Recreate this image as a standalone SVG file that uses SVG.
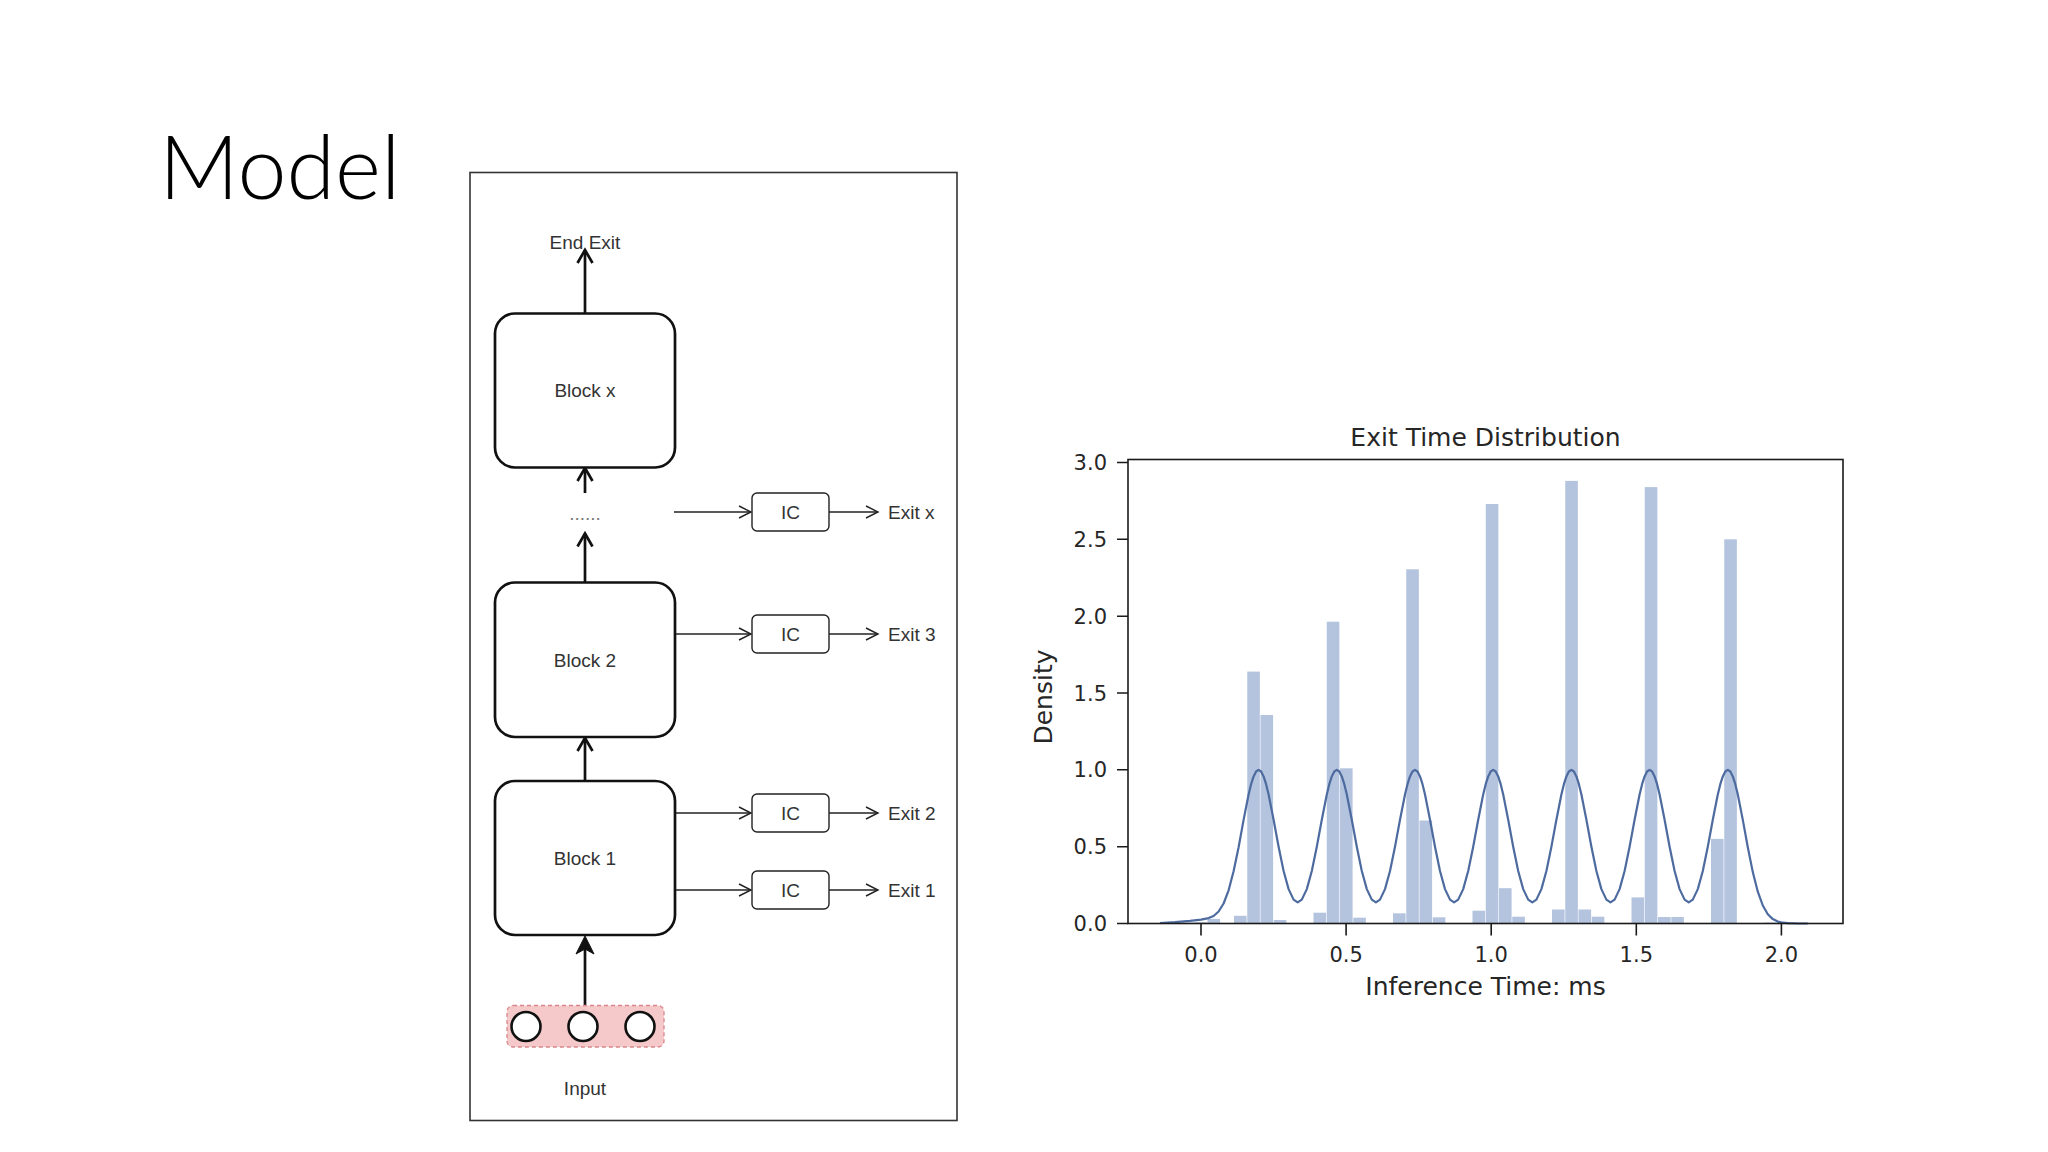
<svg xmlns="http://www.w3.org/2000/svg" width="2048" height="1152" viewBox="0 0 2048 1152">
<style>
.lbl{font-family:"Liberation Sans",Arial,sans-serif;font-size:19px;fill:#333}
.mid{text-anchor:middle}
.blk{fill:#fff;stroke:#111;stroke-width:2.7}
.ic{fill:#fff;stroke:#222;stroke-width:1.4}
.thick{stroke:#111;stroke-width:2.7;fill:none}
.thin{stroke:#222;stroke-width:1.4;fill:none}
.ch{font-family:"DejaVu Sans",sans-serif;fill:#262626}
.tick{font-size:21px}
.bar{fill:#b4c3de}
.spine{stroke:#1a1a1a;stroke-width:1.6;fill:none}
</style>
<defs>
<marker id="openThick" markerUnits="userSpaceOnUse" orient="auto" refX="13" refY="0" markerWidth="20" markerHeight="20" overflow="visible">
<path d="M0,-7.5 L13,0 L0,7.5" fill="none" stroke="#111" stroke-width="2.7"/>
</marker>
<marker id="openThin" markerUnits="userSpaceOnUse" orient="auto" refX="12" refY="0" markerWidth="20" markerHeight="20" overflow="visible">
<path d="M0,-6 L12,0 L0,6" fill="none" stroke="#222" stroke-width="1.4"/>
</marker>
<marker id="classic" markerUnits="userSpaceOnUse" orient="auto" refX="5" refY="0" markerWidth="20" markerHeight="20" overflow="visible">
<path d="M18,0 L0,-9 L5,0 L0,9 Z" fill="#111" stroke="#111" stroke-width="1"/>
</marker>
</defs>
<rect width="2048" height="1152" fill="#fff"/>

<text x="159" y="199" font-family="Lato,'Open Sans',sans-serif" font-weight="300" font-size="88" fill="#000">Model</text>

<g id="frame"><rect x="470" y="172.5" width="487" height="948" fill="none" stroke="#333" stroke-width="1.6"/></g>

<g id="connectors">
<line class="thick" x1="585" y1="313.5" x2="585" y2="250" marker-end="url(#openThick)"/>
<line class="thick" x1="585" y1="493" x2="585" y2="468" marker-end="url(#openThick)"/>
<line class="thick" x1="585" y1="582.5" x2="585" y2="533.5" marker-end="url(#openThick)"/>
<line class="thick" x1="585" y1="781" x2="585" y2="738" marker-end="url(#openThick)"/>
<line class="thick" x1="585" y1="1005.5" x2="585" y2="949" marker-end="url(#classic)"/>
<line class="thin" x1="674" y1="512" x2="751" y2="512" marker-end="url(#openThin)"/>
<line class="thin" x1="675" y1="634" x2="751" y2="634" marker-end="url(#openThin)"/>
<line class="thin" x1="675" y1="813" x2="751" y2="813" marker-end="url(#openThin)"/>
<line class="thin" x1="675" y1="890" x2="751" y2="890" marker-end="url(#openThin)"/>
<line class="thin" x1="829" y1="512" x2="878" y2="512" marker-end="url(#openThin)"/>
<line class="thin" x1="829" y1="634" x2="878" y2="634" marker-end="url(#openThin)"/>
<line class="thin" x1="829" y1="813" x2="878" y2="813" marker-end="url(#openThin)"/>
<line class="thin" x1="829" y1="890" x2="878" y2="890" marker-end="url(#openThin)"/>
</g>

<g id="end-exit"><text class="lbl mid" x="585" y="249">End Exit</text></g>
<g id="block-x"><rect class="blk" x="495" y="313.5" width="180" height="154" rx="20"/><text class="lbl mid" x="585" y="397">Block x</text></g>
<g id="ellipsis"><text class="lbl mid" x="585" y="520" style="fill:#777">......</text></g>
<g id="block-2"><rect class="blk" x="495" y="582.5" width="180" height="154.5" rx="20"/><text class="lbl mid" x="585" y="666.5">Block 2</text></g>
<g id="block-1"><rect class="blk" x="495" y="781" width="180" height="154" rx="20"/><text class="lbl mid" x="585" y="865">Block 1</text></g>

<g id="ic-x"><rect class="ic" x="752" y="493" width="77" height="38" rx="5"/><text class="lbl mid" x="790.5" y="518.5">IC</text></g>
<g id="ic-3"><rect class="ic" x="752" y="615" width="77" height="38" rx="5"/><text class="lbl mid" x="790.5" y="640.5">IC</text></g>
<g id="ic-2"><rect class="ic" x="752" y="794" width="77" height="38" rx="5"/><text class="lbl mid" x="790.5" y="819.5">IC</text></g>
<g id="ic-1"><rect class="ic" x="752" y="871" width="77" height="38" rx="5"/><text class="lbl mid" x="790.5" y="896.5">IC</text></g>

<g id="exit-x"><text class="lbl" x="888" y="519">Exit x</text></g>
<g id="exit-3"><text class="lbl" x="888" y="641">Exit 3</text></g>
<g id="exit-2"><text class="lbl" x="888" y="820">Exit 2</text></g>
<g id="exit-1"><text class="lbl" x="888" y="897">Exit 1</text></g>

<g id="input">
<rect x="507" y="1005.5" width="157" height="41.5" rx="6" fill="#f5c9c9" stroke="#d9868a" stroke-width="1.3" stroke-dasharray="4,3"/>
<circle cx="526" cy="1026.5" r="14.5" fill="#fff" stroke="#111" stroke-width="2.6"/>
<circle cx="583" cy="1026.5" r="14.5" fill="#fff" stroke="#111" stroke-width="2.6"/>
<circle cx="640" cy="1026.5" r="14.5" fill="#fff" stroke="#111" stroke-width="2.6"/>
<text class="lbl mid" x="585" y="1095">Input</text>
</g>

<g id="chart">
<text class="ch" x="1485.5" y="446" font-size="25" text-anchor="middle">Exit Time Distribution</text>
<g id="bars">
<rect class="bar" x="1181" y="922.7" width="12.6" height="0.8"/>
<rect class="bar" x="1194.25" y="922.3" width="12.6" height="1.2"/>
<rect class="bar" x="1207.5" y="918.9" width="12.6" height="4.6"/>
<rect class="bar" x="1234" y="915.8" width="12.6" height="7.7"/>
<rect class="bar" x="1247.25" y="671.6" width="12.6" height="251.9"/>
<rect class="bar" x="1260.5" y="715" width="12.6" height="208.5"/>
<rect class="bar" x="1273.75" y="920" width="12.6" height="3.5"/>
<rect class="bar" x="1313.5" y="912.7" width="12.6" height="10.8"/>
<rect class="bar" x="1326.75" y="621.7" width="12.6" height="301.8"/>
<rect class="bar" x="1340" y="768.3" width="12.6" height="155.2"/>
<rect class="bar" x="1353.25" y="917.7" width="12.6" height="5.8"/>
<rect class="bar" x="1393" y="913.3" width="12.6" height="10.2"/>
<rect class="bar" x="1406.25" y="569.3" width="12.6" height="354.2"/>
<rect class="bar" x="1419.5" y="820.5" width="12.6" height="103"/>
<rect class="bar" x="1432.75" y="917.3" width="12.6" height="6.2"/>
<rect class="bar" x="1472.5" y="910.7" width="12.6" height="12.8"/>
<rect class="bar" x="1485.75" y="504" width="12.6" height="419.5"/>
<rect class="bar" x="1499" y="888.2" width="12.6" height="35.3"/>
<rect class="bar" x="1512.25" y="916.7" width="12.6" height="6.8"/>
<rect class="bar" x="1552" y="909.5" width="12.6" height="14"/>
<rect class="bar" x="1565.25" y="480.9" width="12.6" height="442.6"/>
<rect class="bar" x="1578.5" y="909.5" width="12.6" height="14"/>
<rect class="bar" x="1591.75" y="916.7" width="12.6" height="6.8"/>
<rect class="bar" x="1631.5" y="897.4" width="12.6" height="26.1"/>
<rect class="bar" x="1644.75" y="487.1" width="12.6" height="436.4"/>
<rect class="bar" x="1658" y="917" width="12.6" height="6.5"/>
<rect class="bar" x="1671.25" y="917" width="12.6" height="6.5"/>
<rect class="bar" x="1711" y="838.9" width="12.6" height="84.6"/>
<rect class="bar" x="1724.25" y="539.3" width="12.6" height="384.2"/>
<rect class="bar" x="1764" y="922.6" width="12.6" height="0.9"/>
<rect class="bar" x="1777.25" y="922.6" width="12.6" height="0.9"/>
</g>
<path id="kde" fill="none" stroke="#4d6b9f" stroke-width="2.2" stroke-linejoin="round" d="M1160,923 L1175,922.2 L1190,920.9 L1201,919.6 L1208.6,918.1 L1213.6,916 L1218.6,911.5 L1223.6,903.5 L1228.6,890.3 L1233.6,871.3 L1238.6,847.2 L1243.6,819.9 L1248.6,794.5 L1251.1,784.2 L1253.6,776.4 L1256.1,771.5 L1258.6,769.8
l2.5,1.7 2.5,4.9 2.5,7.8 2.5,10.3 5,25.2 5,27.1 5,24.2 5,18.1 5,10.5 4.1,2.8 4.1,-2.8 5,-10.5 5,-18.1 5,-24.2 5,-27.1 5,-25.2 2.5,-10.3 2.5,-7.8 2.5,-4.9 2.5,-1.7
l2.5,1.7 2.5,4.9 2.5,7.8 2.5,10.3 5,25.2 5,27.1 5,24.2 5,18.1 5,10.5 4.1,2.8 4.1,-2.8 5,-10.5 5,-18.1 5,-24.2 5,-27.1 5,-25.2 2.5,-10.3 2.5,-7.8 2.5,-4.9 2.5,-1.7
l2.5,1.7 2.5,4.9 2.5,7.8 2.5,10.3 5,25.2 5,27.1 5,24.2 5,18.1 5,10.5 4.1,2.8 4.1,-2.8 5,-10.5 5,-18.1 5,-24.2 5,-27.1 5,-25.2 2.5,-10.3 2.5,-7.8 2.5,-4.9 2.5,-1.7
l2.5,1.7 2.5,4.9 2.5,7.8 2.5,10.3 5,25.2 5,27.1 5,24.2 5,18.1 5,10.5 4.1,2.8 4.1,-2.8 5,-10.5 5,-18.1 5,-24.2 5,-27.1 5,-25.2 2.5,-10.3 2.5,-7.8 2.5,-4.9 2.5,-1.7
l2.5,1.7 2.5,4.9 2.5,7.8 2.5,10.3 5,25.2 5,27.1 5,24.2 5,18.1 5,10.5 4.1,2.8 4.1,-2.8 5,-10.5 5,-18.1 5,-24.2 5,-27.1 5,-25.2 2.5,-10.3 2.5,-7.8 2.5,-4.9 2.5,-1.7
l2.5,1.7 2.5,4.9 2.5,7.8 2.5,10.3 5,25.2 5,27.1 5,24.2 5,18.1 5,10.5 4.1,2.8 4.1,-2.8 5,-10.5 5,-18.1 5,-24.2 5,-27.1 5,-25.2 2.5,-10.3 2.5,-7.8 2.5,-4.9 2.5,-1.7
l2.5,1.7 2.5,4.9 2.5,7.8 2.5,10.3 5,25.4 5,27.3 5,24.9 5,19.6 5,13.8 5,8.7 5,4.9 5,2.5 5,1.1 5,0.5 10,0.3 10,0"/>
<rect class="spine" x="1128" y="459.5" width="715" height="464"/>
<path class="spine" d="M1117,923.5H1128 M1117,846.7H1128 M1117,769.8H1128 M1117,693H1128 M1117,616.2H1128 M1117,539.3H1128 M1117,462.5H1128 M1201,923.5V935.5 M1346.1,923.5V935.5 M1491.2,923.5V935.5 M1636.3,923.5V935.5 M1781.4,923.5V935.5"/>
<g class="ch tick" text-anchor="end">
<text x="1107" y="931">0.0</text>
<text x="1107" y="854.3">0.5</text>
<text x="1107" y="777.4">1.0</text>
<text x="1107" y="700.6">1.5</text>
<text x="1107" y="623.8">2.0</text>
<text x="1107" y="546.9">2.5</text>
<text x="1107" y="470.1">3.0</text>
</g>
<g class="ch tick" text-anchor="middle">
<text x="1201" y="961.5">0.0</text>
<text x="1346.1" y="961.5">0.5</text>
<text x="1491.2" y="961.5">1.0</text>
<text x="1636.3" y="961.5">1.5</text>
<text x="1781.4" y="961.5">2.0</text>
</g>
<text class="ch" x="1485.5" y="995" font-size="25" text-anchor="middle">Inference Time: ms</text>
<text class="ch" x="0" y="0" font-size="25" text-anchor="middle" transform="translate(1052,697) rotate(-90)">Density</text>
</g>
</svg>
